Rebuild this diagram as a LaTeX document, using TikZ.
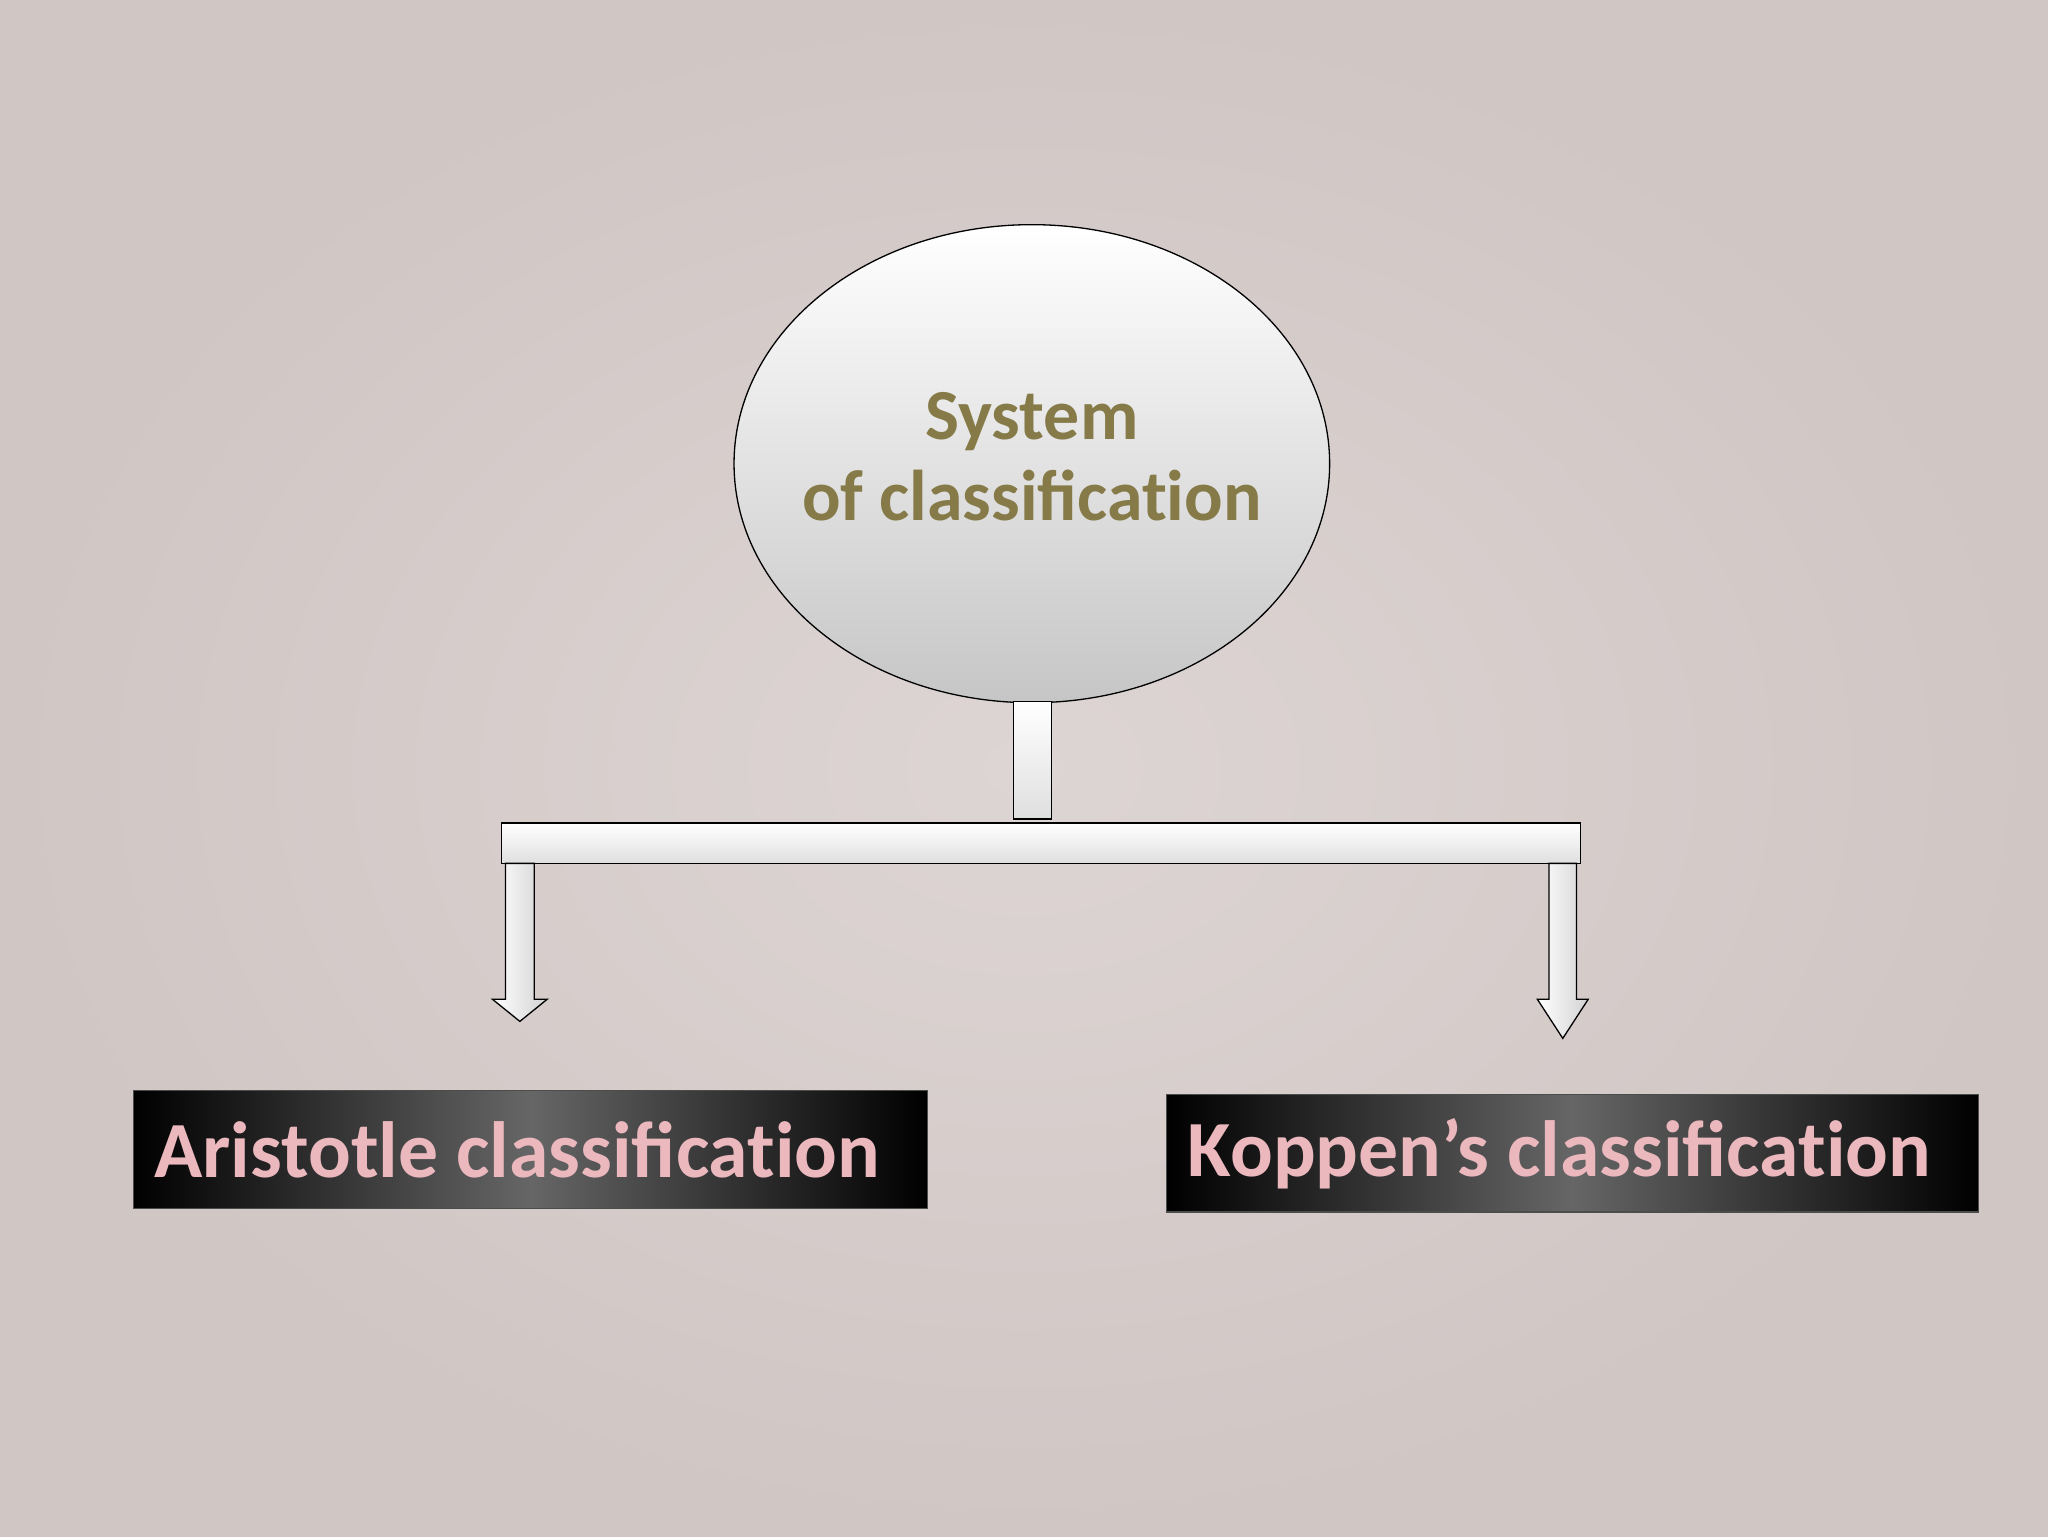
\documentclass[tikz,border=0pt]{standalone}
\usepackage{fontspec}
\setmainfont[RawFeature=-liga]{Carlito}
\usetikzlibrary{shapes.geometric}
\definecolor{bgin}{HTML}{DDD5D4}
\definecolor{bgout}{HTML}{D0C6C4}
\definecolor{pinkt}{HTML}{EBB8BE}
\definecolor{olivet}{HTML}{857A48}
\begin{document}
\begin{tikzpicture}[x=1pt,y=-1pt,
  shade3/.style={draw=black,line width=1pt,top color=white,bottom color=gray!45},
  darkbox/.style={draw=gray!60!black,line width=1pt,left color=black,right color=black,middle color=gray!80!black,inner sep=0pt},
  pinktxt/.style={text=pinkt,font=\bfseries\fontsize{61}{70}\selectfont}]
\useasboundingbox (0,0) rectangle (1568,1176);
\fill[inner color=bgin, outer color=bgout] (0,0) rectangle (1568,1176);
\node[shade3,ellipse,minimum width=456,minimum height=366,inner sep=0pt] (top) at (790,355) {};
\node[text=olivet,font=\bfseries\fontsize{55}{62}\selectfont,align=center] (toptxt) at (790,350) {System\\of classiﬁcation};
\node[shade3,minimum width=29,minimum height=90,inner sep=0pt,top color=white,bottom color=gray!25] (stem) at (790.5,582) {};
\node[shade3,minimum width=826,minimum height=31,inner sep=0pt,top color=white,bottom color=gray!25] (bar) at (797,645.5) {};
\coordinate (la) at (398,661);
\coordinate (ra) at (1196.5,661);
\shade[shade3,left color=white,right color=gray!35] (387,661) -- (409,661) -- (409,765) -- (419,765) -- (398,782) -- (377,765) -- (387,765) -- cycle;
\shade[shade3,left color=white,right color=gray!35] (1186,661) -- (1207,661) -- (1207,765) -- (1216,765) -- (1196.5,795) -- (1177,765) -- (1186,765) -- cycle;
\node[darkbox,minimum width=608,minimum height=90] (ar) at (406,880) {};
\node[pinktxt] (artxt) at (396,880) {Aristotle classiﬁcation};
\node[darkbox,minimum width=622,minimum height=90] (ko) at (1204,883) {};
\node[pinktxt] (kotxt) at (1194,883) {Koppen’s classiﬁcation};
\end{tikzpicture}
\end{document}
